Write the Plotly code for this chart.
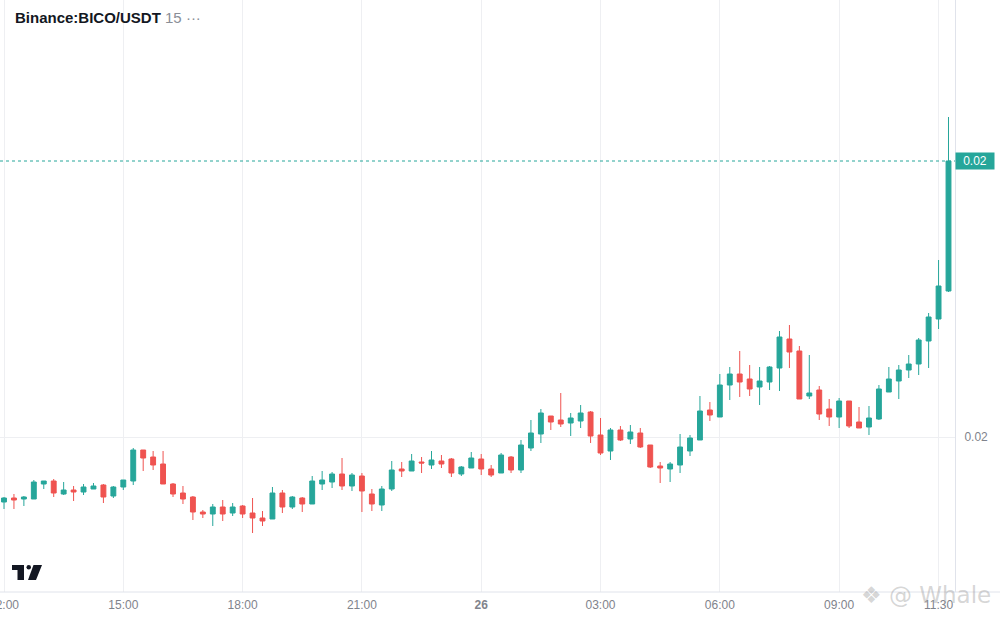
import pandas as pd
import plotly.graph_objects as go

# 15 minute candles, Binance BICO/USDT
times = pd.date_range("2023-05-25 12:00", periods=96, freq="15min")

opens = [0.01935, 0.01939, 0.01938, 0.01938, 0.01953, 0.01956, 0.01943, 0.01947, 0.01945, 0.01948,
         0.01952, 0.01941, 0.01950, 0.01956, 0.01987, 0.01980, 0.01973, 0.01953, 0.01944, 0.01940,
         0.01925, 0.01923, 0.01930, 0.01924, 0.01931, 0.01924, 0.01919, 0.01918, 0.01944, 0.01930,
         0.01939, 0.01933, 0.01953, 0.01955, 0.01963, 0.01951, 0.01961, 0.01943, 0.01932, 0.01948,
         0.01968, 0.01966, 0.01975, 0.01972, 0.01976, 0.01978, 0.01963, 0.01969, 0.01978, 0.01968,
         0.01964, 0.01980, 0.01967, 0.01989, 0.02003, 0.02021, 0.02017, 0.02014, 0.02016, 0.02025,
         0.02002, 0.01986, 0.02007, 0.01998, 0.02004, 0.01992, 0.01971, 0.01968, 0.01972, 0.01986,
         0.01997, 0.02027, 0.02020, 0.02052, 0.02063, 0.02058, 0.02050, 0.02055, 0.02069, 0.02098,
         0.02086, 0.02041, 0.02047, 0.02028, 0.02020, 0.02036, 0.02015, 0.02010, 0.02018, 0.02045,
         0.02056, 0.02067, 0.02073, 0.02096, 0.02118, 0.02146]
highs = [0.01940, 0.01943, 0.01941, 0.01957, 0.01956, 0.01958, 0.01955, 0.01951, 0.01953, 0.01954,
         0.01953, 0.01951, 0.01957, 0.01989, 0.01987, 0.01986, 0.01986, 0.01954, 0.01951, 0.01941,
         0.01927, 0.01933, 0.01937, 0.01934, 0.01932, 0.01939, 0.01926, 0.01950, 0.01947, 0.01941,
         0.01940, 0.01961, 0.01966, 0.01965, 0.01979, 0.01964, 0.01964, 0.01948, 0.01951, 0.01976,
         0.01975, 0.01983, 0.01980, 0.01986, 0.01982, 0.01979, 0.01971, 0.01985, 0.01983, 0.01972,
         0.01984, 0.01981, 0.01997, 0.02017, 0.02028, 0.02021, 0.02044, 0.02024, 0.02032, 0.02026,
         0.02019, 0.02009, 0.02011, 0.02012, 0.02009, 0.01992, 0.01975, 0.01975, 0.02003, 0.02002,
         0.02041, 0.02035, 0.02063, 0.02070, 0.02086, 0.02072, 0.02070, 0.02071, 0.02106, 0.02112,
         0.02091, 0.02082, 0.02051, 0.02038, 0.02039, 0.02036, 0.02030, 0.02031, 0.02052, 0.02070,
         0.02072, 0.02082, 0.02099, 0.02124, 0.02177, 0.02320]
lows = [0.01928, 0.01928, 0.01931, 0.01938, 0.01948, 0.01940, 0.01942, 0.01936, 0.01942, 0.01948,
        0.01934, 0.01939, 0.01947, 0.01952, 0.01966, 0.01967, 0.01953, 0.01940, 0.01933, 0.01917,
        0.01919, 0.01911, 0.01916, 0.01921, 0.01919, 0.01904, 0.01911, 0.01918, 0.01924, 0.01928,
        0.01925, 0.01933, 0.01947, 0.01949, 0.01947, 0.01946, 0.01925, 0.01926, 0.01926, 0.01946,
        0.01960, 0.01966, 0.01964, 0.01968, 0.01969, 0.01960, 0.01961, 0.01969, 0.01962, 0.01960,
        0.01964, 0.01964, 0.01964, 0.01986, 0.01994, 0.02007, 0.02010, 0.02001, 0.02009, 0.01994,
        0.01982, 0.01977, 0.01996, 0.01993, 0.01989, 0.01969, 0.01954, 0.01955, 0.01964, 0.01981,
        0.01997, 0.02016, 0.02020, 0.02037, 0.02040, 0.02041, 0.02032, 0.02047, 0.02046, 0.02069,
        0.02038, 0.02038, 0.02017, 0.02011, 0.02009, 0.02009, 0.02009, 0.02002, 0.02017, 0.02045,
        0.02038, 0.02059, 0.02062, 0.02069, 0.02108, 0.02145]
closes = [0.01939, 0.01937, 0.01940, 0.01955, 0.01956, 0.01944, 0.01947, 0.01945, 0.01950, 0.01951,
          0.01940, 0.01950, 0.01957, 0.01987, 0.01979, 0.01972, 0.01953, 0.01943, 0.01938, 0.01925,
          0.01923, 0.01930, 0.01923, 0.01930, 0.01923, 0.01919, 0.01916, 0.01944, 0.01930, 0.01940,
          0.01933, 0.01956, 0.01957, 0.01963, 0.01951, 0.01962, 0.01946, 0.01933, 0.01948, 0.01967,
          0.01966, 0.01976, 0.01974, 0.01977, 0.01973, 0.01964, 0.01970, 0.01979, 0.01968, 0.01962,
          0.01982, 0.01967, 0.01992, 0.02004, 0.02024, 0.02015, 0.02013, 0.02019, 0.02024, 0.02001,
          0.01984, 0.02007, 0.01997, 0.02005, 0.01990, 0.01970, 0.01969, 0.01973, 0.01990, 0.01999,
          0.02026, 0.02022, 0.02052, 0.02063, 0.02055, 0.02048, 0.02056, 0.02070, 0.02100, 0.02085,
          0.02038, 0.02044, 0.02023, 0.02020, 0.02036, 0.02011, 0.02009, 0.02019, 0.02048, 0.02058,
          0.02067, 0.02073, 0.02097, 0.02120, 0.02151, 0.02276]

tick_times = ["2023-05-25 12:00", "2023-05-25 15:00", "2023-05-25 18:00", "2023-05-25 21:00",
              "2023-05-26 00:00", "2023-05-26 03:00", "2023-05-26 06:00", "2023-05-26 09:00",
              "2023-05-26 11:30"]
tick_text = ["12:00", "15:00", "18:00", "21:00", "<b>26</b>", "03:00", "06:00", "09:00", "11:30"]
price_ticks = [0.02]
price_text = ["0.02"]

UP = "#26a69a"
DOWN = "#ef5350"
GRID = "#eeeff2"
TXT = "#7f838c"
W, H = 955, 592  # plot area in px


def px(x):
    return x / W


def py(y):
    return 1 - y / H


fig = go.Figure()
fig.add_trace(go.Candlestick(
    x=times, open=opens, high=highs, low=lows, close=closes,
    increasing=dict(line=dict(color=UP, width=1), fillcolor=UP),
    decreasing=dict(line=dict(color=DOWN, width=1), fillcolor=DOWN),
    whiskerwidth=0, hoverinfo="skip", showlegend=False))

last = closes[-1]
fig.add_shape(type="line", xref="paper", yref="y", x0=0, x1=1, y0=last, y1=last,
              line=dict(color=UP, width=1, dash="dot"))
fig.add_annotation(xref="paper", yref="y", x=1, y=last, xanchor="left", yanchor="middle",
                   text="0.02", showarrow=False, bgcolor=UP, width=36, height=14, borderpad=1,
                   font=dict(color="white", size=12, family="Liberation Sans"))

# bottom border under the price scale too
fig.add_shape(type="line", xref="paper", yref="paper", x0=0, x1=1000 / W, y0=0, y1=0,
              line=dict(color="#e0e3eb", width=1))

# title
fig.add_annotation(xref="paper", yref="paper", x=px(13), y=py(18), xanchor="left", yanchor="middle",
                   showarrow=False,
                   text="<b>Binance:BICO/USDT</b> <span style='color:#8a8e97'>15 \u00b7\u00b7\u00b7</span>",
                   font=dict(color="#131722", size=15, family="Liberation Sans"))

# tradingview logo
logo = "#131722"
fig.add_shape(type="path", xref="paper", yref="paper", fillcolor=logo, line=dict(width=0),
              path=f"M{px(12)},{py(565)} L{px(24)},{py(565)} L{px(24)},{py(580)} L{px(17.5)},{py(580)} "
                   f"L{px(17.5)},{py(570)} L{px(12)},{py(570)} Z")
fig.add_shape(type="circle", xref="paper", yref="paper", fillcolor=logo, line=dict(width=0),
              x0=px(26.5), x1=px(31), y0=py(569.5), y1=py(565))
fig.add_shape(type="path", xref="paper", yref="paper", fillcolor=logo, line=dict(width=0),
              path=f"M{px(33.5)},{py(565)} L{px(42)},{py(565)} L{px(36)},{py(580)} L{px(28)},{py(580)} Z")

# watermark
fig.add_annotation(xref="paper", yref="paper", x=px(993), y=py(595), xanchor="right", yanchor="middle",
                   showarrow=False, text="\u2756 @ Whale",
                   font=dict(color="rgba(150,150,150,0.4)", size=23, family="DejaVu Sans"))

fig.update_xaxes(range=["2023-05-25 11:53:58", "2023-05-26 11:54:48"],
                 rangeslider_visible=False, tickvals=tick_times, ticktext=tick_text,
                 showgrid=True, gridcolor=GRID, gridwidth=1, ticks="", automargin=False,
                 showline=False, zeroline=False, ticklabeloverflow="allow", ticklabelstandoff=4,
                 tickfont=dict(color=TXT, size=12, family="Liberation Sans"))
fig.update_yaxes(range=[0.01845, 0.02437], side="right", tickvals=price_ticks, ticktext=price_text,
                 showgrid=True, gridcolor=GRID, gridwidth=1, ticks="", automargin=False,
                 showline=True, linecolor="#e0e3eb", linewidth=1, zeroline=False,
                 ticklabelstandoff=6,
                 tickfont=dict(color=TXT, size=12, family="Liberation Sans"))
fig.update_layout(width=1000, height=620, margin=dict(l=0, r=45, t=0, b=28, autoexpand=False),
                  plot_bgcolor="white", paper_bgcolor="white", hovermode=False)

# page has a default body margin; drop it so the chart sits at the window's corner
fig.write_html("out.html", config={"displayModeBar": False},
               post_script="document.body.style.margin='0';")
